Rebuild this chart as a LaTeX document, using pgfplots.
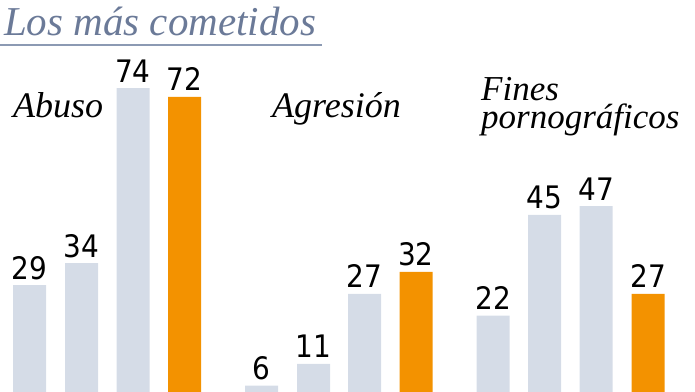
\documentclass[border=0pt]{standalone}
\usepackage{pgfplots}
\pgfplotsset{compat=1.18}
\usepackage{fontspec}
\setmainfont{Liberation Serif}
\newfontfamily\numfont{DejaVu Sans Condensed}
\definecolor{barg}{HTML}{D5DCE7}
\definecolor{baro}{HTML}{F39200}
\definecolor{titc}{HTML}{6B7A98}
\definecolor{linec}{HTML}{8C9AB3}
\begin{document}
\begin{tikzpicture}
\begin{axis}[
 scale only axis, width=695pt, height=392pt,
 xmin=0, xmax=695, ymin=4.57, ymax=94.11,
 axis lines=none,
 ybar, bar width=33pt, bar shift=0pt,
 nodes near coords={\numfont\fontsize{31}{31}\selectfont\pgfmathprintnumber[assume math mode=true]{\pgfplotspointmeta}},
 every node near coord/.append style={anchor=base, inner sep=0pt, yshift=6pt, text=black},
 clip=true,
]
\addplot[fill=barg, draw=none] coordinates {(29.5,29) (81.5,34) (133,74) (261.5,6) (313.5,11) (364.5,27) (493,22) (544.5,45) (596,47)};
\addplot[fill=baro, draw=none] coordinates {(184.5,72) (416,32) (648,27)};
\coordinate (bl) at (rel axis cs:0,0);
\coordinate (tr) at (rel axis cs:1,1);
\node[anchor=base west, inner sep=0pt, text=titc, font=\itshape\fontsize{41}{41}\selectfont] at (axis cs:4,86.11) {Los más cometidos};
\draw[linec, line width=1.5pt] (axis cs:0,83.83) -- (axis cs:322,83.83);
\node[anchor=base west, inner sep=0pt, font=\itshape\fontsize{36}{36}\selectfont] at (axis cs:13,67.38) {Abuso};
\node[anchor=base west, inner sep=0pt, font=\itshape\fontsize{36}{36}\selectfont] at (axis cs:272,67.38) {Agresión};
\node[anchor=base west, inner sep=0pt, align=left, font=\itshape\fontsize{35}{28}\selectfont] at (axis cs:481,64.87) {Fines\\pornográficos};
\end{axis}
\pgfresetboundingbox
\useasboundingbox (bl) rectangle (tr);
\end{tikzpicture}
\end{document}
